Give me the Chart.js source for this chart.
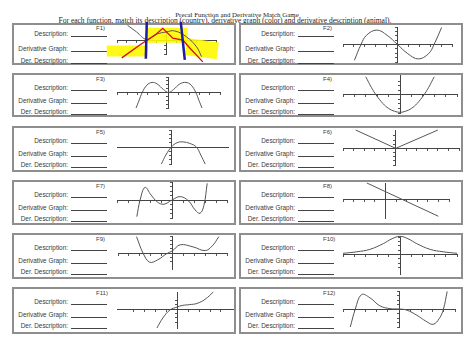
<!DOCTYPE html>
<html>
<head>
<meta charset="utf-8">
<script src="https://cdn.jsdelivr.net/npm/chart.js@4.4.1/dist/chart.umd.min.js"></script>
<style>
  body { margin: 0; width: 474px; height: 344px; background: #fff; position: relative; overflow: hidden;
         font-family: "Liberation Sans", Arial, sans-serif; }
  .head { position: absolute; left: 0; width: 474px; text-align: center; font-family: "Liberation Serif", serif;
          line-height: 8px; color: #222; white-space: nowrap; }
  .box { position: absolute; border: 2px solid #8e8e8e; box-sizing: border-box; }
  .lbl { position: absolute; font-size: 6.4px; line-height: 8px; color: #3a3a3a; white-space: nowrap; text-align: right; width: 60px; }
  .fn { position: absolute; font-size: 6px; line-height: 8px; color: #3a3a3a; }
  .ul { position: absolute; height: 0; border-top: 1px solid #444; }
  canvas { position: absolute; }
</style>
</head>
<body>
<script>
const titleText = 'Precal Function and Derivative Match Game';
const subtitleText = 'For each function, match its description (country), derivative graph (color) and derivative description (animal).';
const names = ['F1)', 'F2)', 'F3)', 'F4)', 'F5)', 'F6)', 'F7)', 'F8)', 'F9)', 'F10)', 'F11)', 'F12)'];
const fields = ['Description:', 'Derivative Graph:', 'Der. Description:'];

// function curves (x, y in graph units)
const f1x = [-3.94, -3.03, -2.02, -1.01, 0, 0.84, 2.02, 3.03, 3.54];
const f1y = [3.52, 2.02, 0.31, 1.5, 2.02, 2.24, 0.9, -1.35, -3.59];
const f2x = [-3.95, -3.35, -2.85, -1.9, -0.95, 0, 0.95, 1.9, 2.85, 3.35, 4.05];
const f2y = [-3.6, 0, 2.1, 3.3, 2.1, 0, -2.1, -3.3, -2.1, 0, 3.9];
const f3x = [-3.15, -2.85, -2.55, -2.1, -1.6, -1.1, -0.5, 0, 0.5, 1.1, 1.7, 2.2, 2.65, 2.95, 3.25];
const f3y = [-4, -2, 0, 1.9, 2.6, 2.2, 0.8, 0, 0.8, 2.2, 2.6, 1.9, 0, -2, -4];
const f4x = [-3, -2.5, -2.1, -1.5, -1, -0.5, 0, 0.5, 1, 1.5, 2.1, 2.5, 3];
const f4y = [4, 1.6, 0, -1.9, -3, -3.6, -3.85, -3.6, -3, -1.9, 0, 1.6, 4];
const f5x = [-0.9, -0.5, 0, 0.5, 1.05, 1.65, 2.25, 2.65, 3.05];
const f5y = [-4, -1.9, 0, 1, 1.2, 0.85, 0, -1.9, -4];
const f6x = [-3.8, 0, 4];
const f6y = [4.4, 0, 4.4];
const f7x = [-3.2, -2.9, -2.45, -1.9, -1.35, -0.75, 0, 0.75, 1.5, 2.1, 2.55, 2.9, 3.2];
const f7y = [-3.7, 0, 2.8, 1.1, -0.4, -0.95, 0, 0.75, -0.2, -2.2, -2.95, -1.2, 3.7];
const f8x = [-1.75, 5];
const f8y = [3.8, -3.8];
const f9x = [-3.3, -2.7, -2.1, -1.35, -0.55, 0, 0.7, 1.9, 3, 3.65, 4.25];
const f9y = [3.85, 0, -2.1, -1.55, -0.15, 0.55, 1.95, 1.45, 0.6, 1.7, 3.85];
const f10x = [-5, -3.8, -2.65, -1.45, -0.7, 0, 0.7, 1.45, 2.65, 3.8, 5];
const f10y = [0.25, 0.6, 1.15, 2.5, 3.6, 4.15, 3.6, 2.5, 1.15, 0.6, 0.25];
const f11x = [-1.85, -1.3, -0.65, 0, 0.45, 1.15, 1.8, 2.55, 3.3];
const f11y = [-4.3, -2, -0.2, 0.45, 0.8, 1, 1.25, 2.2, 3.85];
const f12x = [-4.35, -3.9, -3.35, -2.6, -1.7, -0.8, 0, 0.7, 1.6, 2.4, 3.05, 3.6, 3.97, 4.3];
const f12y = [-4, 0, 3.2, 2.5, 0.7, 0.08, 0, -0.25, -1.4, -2.7, -3.4, -2.1, 0, 3.9];

// student marks on F1
const redX = [-4.52, -2.7, -1.18, -0.37, 0.64, 1.65, 2.35, 3.67];
const redY = [-3.88, -0.96, 1.28, 2.85, 0.61, 0.16, -1.64, -4.78];
const blueLeftX = [-1.99, -2.09];
const blueLeftY = [4.3, -4.1];
const blueRightX = [1.44, 1.85];
const blueRightY = [4.3, -4.33];
const yellowAX = [-6.03, -1.89], yellowAY = [-2.31, -2.31];
const yellowBX = [-2.09, 2.15], yellowBY = [1.28, 1.28];
const yellowCX = [1.95, 5.18], yellowCY = [-1.3, -2.3];

// page layout
const rowTop = [23, 73, 126, 180, 233, 287];
const rowBot = [65, 117, 172, 225, 279, 334];
const colL = [12, 239];
const colR = [236, 463];

const graphs = [
  { area: [117, 32, 216, 54], x: [-5, 5], y: [-3, 2], pad: [17, 10, 15, 14], z: 1 },
  { area: [343, 27, 452, 62], x: [-5, 5], y: [-4, 4] },
  { area: [117, 77, 220, 108], x: [-5, 5], y: [-4, 4] },
  { area: [343, 75, 457, 113], x: [-5, 5], y: [-4, 4.4] },
  { area: [117, 130, 228, 164], x: [-4.9, 5.1], y: [-4, 4] },
  { area: [343, 130, 459, 165], x: [-5, 6], y: [-4, 4.4] },
  { area: [117, 182, 227, 218], x: [-5, 5], y: [-4, 4] },
  { area: [343, 183, 449, 218], x: [-4, 6], y: [-4.2, 3.8] },
  { area: [118, 236, 227, 269], x: [-5, 5], y: [-3.7, 4] },
  { area: [343, 237, 457, 274], x: [-5, 5], y: [-4.5, 4] },
  { area: [117, 292, 233, 328], x: [-5.5, 5.1], y: [-4.3, 3.85] },
  { area: [343, 291, 455, 327], x: [-5, 5], y: [-4, 4] }
];

function addDiv(cls, text, css) {
  const d = document.createElement('div');
  d.className = cls;
  d.textContent = text;
  Object.assign(d.style, css);
  document.body.appendChild(d);
  return d;
}

addDiv('head', titleText, { top: '11px', fontSize: '6.9px' });
addDiv('head', subtitleText, { top: '16.5px', fontSize: '7.5px', left: '-12px' });

names.forEach((name, i) => {
  const row = Math.floor(i / 2), col = i % 2;
  const left = colL[col], top = rowTop[row];
  addDiv('box', '', { left: left + 'px', top: top + 'px', width: (colR[col] - left) + 'px', height: (rowBot[row] - top) + 'px' });
  const fy = row === 0 ? 4.5 : 6;
  const ly = row === 0 ? [10.5, 26, 37.5] : [14.5, 28, 38.5];
  addDiv('fn', name, { left: (left + 84) + 'px', top: (top + fy - 4) + 'px' });
  fields.forEach((f, k) => {
    const cy = top + ly[k];
    addDiv('lbl', f, { left: (left + 56 - 60) + 'px', top: (cy - 4) + 'px' });
    addDiv('ul', '', { left: (left + 59) + 'px', top: Math.round(cy + 2) + 'px', width: '36px' });
  });
});

function line(xs, ys, color, width, tension) {
  return {
    data: xs.map((x, i) => ({ x: x, y: ys[i] })),
    borderColor: color, borderWidth: width, pointRadius: 0, tension: tension,
    fill: false, clip: false
  };
}

function axis(range, pos, z) {
  return {
    type: 'linear', min: range[0], max: range[1], position: pos, z: z,
    ticks: { display: false, stepSize: 1 },
    afterBuildTicks: s => { s.ticks = s.ticks.filter(t => Number.isInteger(t.value)); },
    grid: { drawOnChartArea: false, drawTicks: true, tickLength: 2, color: '#555', lineWidth: 1 },
    border: { display: true, color: '#444', width: 1 }
  };
}

function drawGraph(g, sets) {
  const [l, t, r, b] = g.area;
  const [pl, pr, pt, pb] = g.pad || [6, 6, 6, 6];
  const cv = document.createElement('canvas');
  cv.width = r - l + pl + pr;
  cv.height = b - t + pt + pb;
  cv.style.left = (l - pl) + 'px';
  cv.style.top = (t - pt) + 'px';
  document.body.appendChild(cv);
  new Chart(cv, {
    type: 'line',
    data: { datasets: sets },
    options: {
      responsive: false, animation: false, events: [],
      layout: { padding: { left: pl, right: pr, top: pt, bottom: pb } },
      plugins: { legend: { display: false }, tooltip: { enabled: false } },
      scales: { x: axis(g.x, { y: 0 }, g.z || 0), y: axis(g.y, { x: 0 }, g.z || 0) }
    }
  });
}

const gray = '#555';
const highlight = 'rgba(255,248,0,0.9)';
const curves = [
  [f1x, f1y], [f2x, f2y], [f3x, f3y], [f4x, f4y], [f5x, f5y], [f6x, f6y],
  [f7x, f7y], [f8x, f8y], [f9x, f9y], [f10x, f10y], [f11x, f11y], [f12x, f12y]
];

curves.forEach(([xs, ys], i) => {
  const straight = (i === 5 || i === 7);
  let sets = [line(xs, ys, gray, 1, straight ? 0 : 0.4)];
  if (i === 0) {
    sets = [
      line(blueLeftX, blueLeftY, '#1c1ca8', 2.5, 0),
      line(blueRightX, blueRightY, '#1c1ca8', 2.5, 0),
      line(redX, redY, '#d01010', 1.3, 0),
      sets[0],
      line(yellowAX, yellowAY, highlight, 11, 0),
      line(yellowBX, yellowBY, highlight, 15, 0),
      line(yellowCX, yellowCY, highlight, 17, 0)
    ];
  }
  drawGraph(graphs[i], sets);
});
</script>
</body>
</html>
